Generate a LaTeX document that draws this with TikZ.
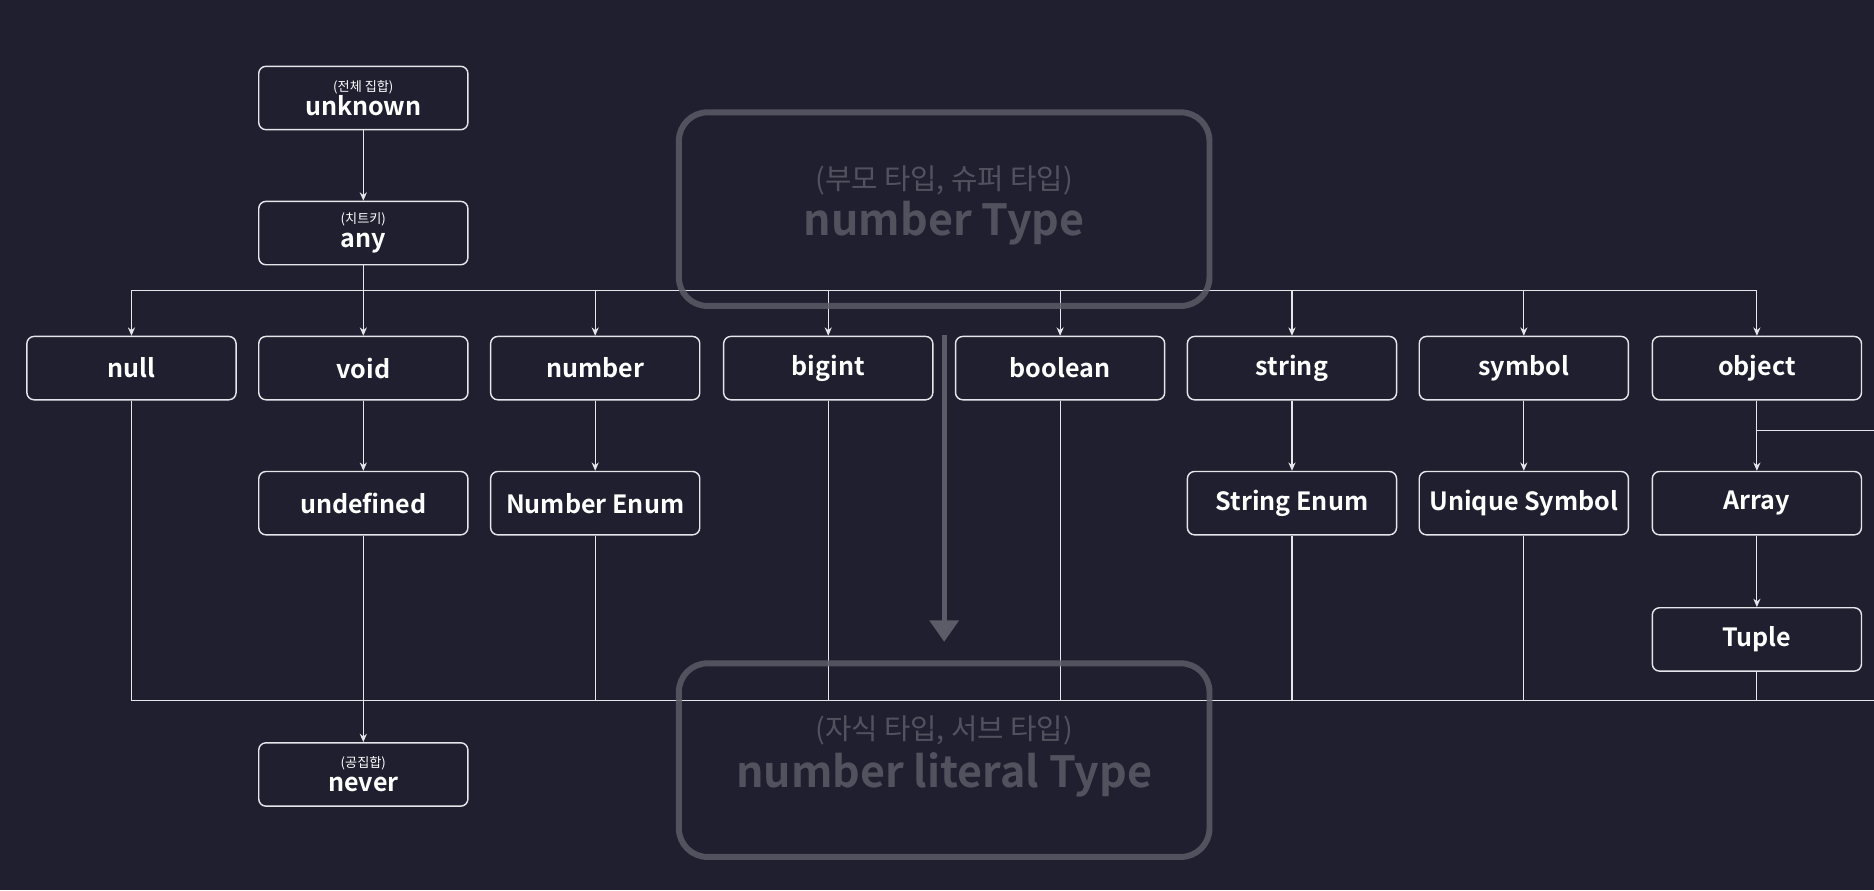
\documentclass[tikz,border=0pt]{standalone}
\usepackage{fontspec}
\setmainfont{Noto Sans CJK KR}[BoldFont={* Bold}]
\usetikzlibrary{arrows.meta}
\definecolor{bg}{HTML}{1F1F2F}
\definecolor{ln}{HTML}{E6E6EA}
\definecolor{ov}{HTML}{5C5C68}
\begin{document}
\begin{tikzpicture}[x=1pt,y=-1pt,
  box/.style={draw=ln,line width=1.2pt,fill=bg,rounded corners=6pt,minimum width=175pt,minimum height=53pt,text=white,font=\fontsize{21}{22}\selectfont\bfseries,align=center,inner sep=0pt},
  wire/.style={draw=ln,line width=0.9pt},
  arr/.style={wire,-{Stealth[length=7pt,width=6pt]}},
  ovbox/.style={draw=ov,line width=5pt,rounded corners=24pt,minimum width=444pt,minimum height=162pt,opacity=0.85},
  ovsub/.style={text=ov,font=\fontsize{24}{28}\selectfont,opacity=0.85},
  ovmain/.style={text=ov,font=\fontsize{36}{40}\selectfont\bfseries,opacity=0.85}]
\fill[bg] (0,0) rectangle (1568,745);
\useasboundingbox (0,0) rectangle (1568,745);
\newcommand{\sm}[1]{{\fontsize{11}{12}\selectfont\mdseries #1}\\[-2pt]}
\node[box] (unk) at (304,82) {\sm{(전체 집합)}unknown};
\node[box] (any) at (304,195) {\sm{(치트키)}any};
\foreach \n/\t/\x in {null/null/110,void/void/304,num/number/498,big/bigint/693,bool/boolean/887,str/string/1081,sym/symbol/1275,obj/object/1470}
  \node[box] (\n) at (\x,308) {\t};
\node[box] (undef) at (304,421) {undefined};
\node[box] (nenum) at (498,421) {Number Enum};
\node[box] (senum) at (1081,421) {String Enum};
\node[box] (usym) at (1275,421) {Unique Symbol};
\node[box] (arr) at (1470,421) {Array};
\node[box] (tup) at (1470,535) {Tuple};
\node[box] (never) at (304,648) {\sm{(공집합)}never};
\coordinate (busL) at (110,243);
\coordinate (busR) at (1470,243);
\coordinate (botL) at (110,586);
\coordinate (botR) at (1568,586);
\coordinate (objR) at (1568,360);
\draw[arr] (unk) -- (any);
\draw[wire] (busL) -- (busR);
\draw[wire] (any.south) -- (any.south |- busL);
\foreach \n in {null,void,num,big,bool,str,sym,obj}
  \draw[arr] (\n.north |- busL) -- (\n.north);
\draw[arr] (void) -- (undef);
\draw[arr] (num) -- (nenum);
\draw[arr] (str) -- (senum);
\draw[arr] (sym) -- (usym);
\draw[arr] (obj) -- (arr);
\draw[arr] (arr) -- (tup);
\draw[wire] (obj.south |- objR) -- (objR);
\draw[arr] (undef) -- (never);
\draw[wire] (botL) -- (botR);
\draw[wire] (null.south) -- (botL);
\foreach \n in {nenum,big,bool,senum,usym,tup}
  \draw[wire] (\n.south) -- (\n.south |- botL);
\node[ovbox] (top) at (790,175) {};
\node[ovsub] (topa) at (790,151) {(부모 타입, 슈퍼 타입)};
\node[ovmain] (topb) at (790,187) {number Type};
\node[ovbox] (bot) at (790,636) {};
\node[ovsub] (bota) at (790,611) {(자식 타입, 서브 타입)};
\node[ovmain] (botb) at (790,648) {number literal Type};
\coordinate (aS) at (790,280);
\coordinate (aE) at (790,537);
\draw[draw=ov,line width=4pt,-{Triangle[length=18pt,width=24pt]}] (aS) -- (aE);
\end{tikzpicture}
\end{document}
